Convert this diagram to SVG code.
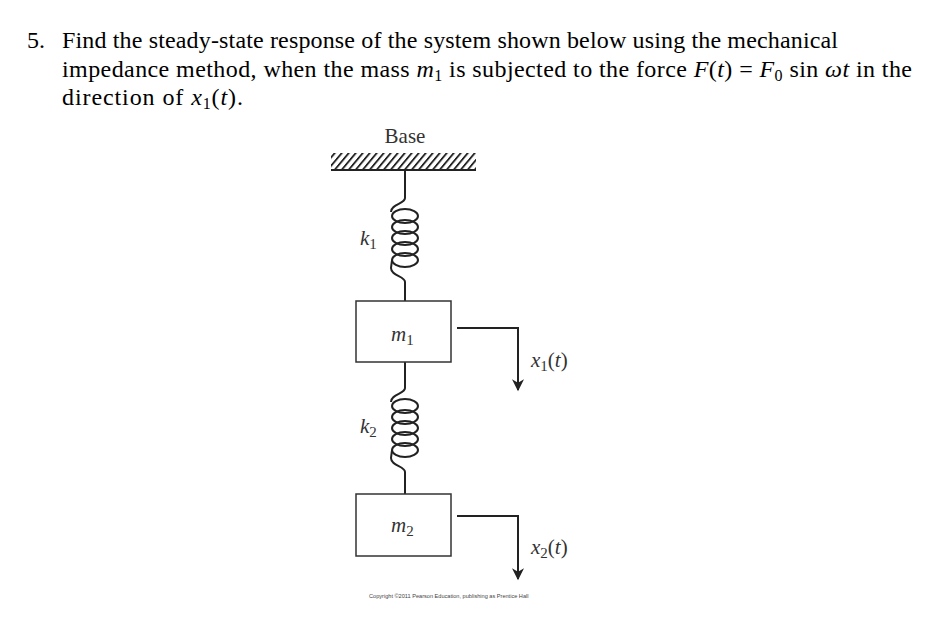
<svg xmlns="http://www.w3.org/2000/svg" width="952" height="625" viewBox="0 0 952 625">
<defs>
<style>
.t{font-family:"Liberation Serif",serif;font-size:24px;fill:#000}
.i{font-style:italic}
.l{font-family:"Liberation Serif",serif;fill:#333;font-size:21px}
.ln{stroke:#222;stroke-width:2;fill:none}
.box{fill:#fff;stroke:#333;stroke-width:1.5}
</style>
<marker id="ah" viewBox="0 0 10 10" refX="9" refY="5" markerWidth="16" markerHeight="12" orient="auto" markerUnits="userSpaceOnUse"><path d="M0,0 L10,5 L0,10 L3,5 z" fill="#222"/></marker>
<pattern id="hatch" width="7" height="18" patternUnits="userSpaceOnUse" patternTransform="skewX(-40)"><rect x="0" y="0" width="2.4" height="18" fill="#222"/></pattern>
<g id="coil"><path class="ln" stroke-width="1.8" d="M0,0 C0,6 -14,6 -14,14"/><ellipse cx="0" cy="18" rx="13" ry="7" class="ln" stroke-width="1.8"/><ellipse cx="0" cy="29" rx="13" ry="7" class="ln" stroke-width="1.8"/><ellipse cx="0" cy="40" rx="13" ry="7" class="ln" stroke-width="1.8"/><ellipse cx="0" cy="51" rx="13" ry="7" class="ln" stroke-width="1.8"/><ellipse cx="0" cy="62" rx="13" ry="7" class="ln" stroke-width="1.8"/><path class="ln" stroke-width="1.8" d="M-13,62 L-14,70 C-14,78 0,78 0,84"/></g>
</defs>
<rect width="952" height="625" fill="#fff"/>
<g id="question">
<text class="t" x="27" y="48">5.</text>
<text class="t" x="62" y="48" textLength="776" lengthAdjust="spacing">Find the steady-state response of the system shown below using the mechanical</text>
<text class="t" x="62" y="77" textLength="850" lengthAdjust="spacing">impedance method, when the mass <tspan class="i">m</tspan><tspan font-size="16" dy="4">1</tspan><tspan dy="-4"> is subjected to the force </tspan><tspan class="i">F</tspan>(<tspan class="i">t</tspan>) = <tspan class="i">F</tspan><tspan font-size="16" dy="4">0</tspan><tspan dy="-4"> sin </tspan><tspan class="i">ωt</tspan> in the</text>
<text class="t" x="62" y="105" textLength="181" lengthAdjust="spacing">direction of <tspan class="i">x</tspan><tspan font-size="16" dy="4">1</tspan><tspan dy="-4">(</tspan><tspan class="i">t</tspan>).</text>
</g>
<g id="base">
<text class="l" x="405" y="143" text-anchor="middle">Base</text>
<rect x="331" y="153" width="145" height="16" fill="url(#hatch)"/>
<line x1="331" y1="170" x2="476" y2="170" stroke="#222" stroke-width="2"/>
</g>
<g id="connectors">
<line class="ln" x1="405" y1="170" x2="405" y2="198"/>
<use href="#coil" x="405" y="198"/>
<line class="ln" x1="405" y1="282" x2="405" y2="301"/>
<line class="ln" x1="405" y1="362" x2="405" y2="388"/>
<use href="#coil" x="405" y="388"/>
<line class="ln" x1="405" y1="472" x2="405" y2="494"/>
<path class="ln" stroke-width="2.5" d="M457,328 H518 V390" marker-end="url(#ah)"/>
<path class="ln" stroke-width="2.5" d="M457,516 H518 V579" marker-end="url(#ah)"/>
</g>
<g id="m1"><rect class="box" x="356" y="301" width="95" height="61"/><text class="l i" x="391" y="341">m<tspan font-size="15" font-style="normal" dy="4">1</tspan></text></g>
<g id="m2"><rect class="box" x="356" y="494" width="95" height="62"/><text class="l i" x="391" y="532">m<tspan font-size="15" font-style="normal" dy="4">2</tspan></text></g>
<g id="labels">
<text class="l i" x="360" y="245">k<tspan font-size="15" font-style="normal" dy="4">1</tspan></text>
<text class="l i" x="360" y="433">k<tspan font-size="15" font-style="normal" dy="4">2</tspan></text>
<text class="l" x="531" y="367"><tspan class="i">x</tspan><tspan font-size="15" dy="4">1</tspan><tspan dy="-4">(</tspan><tspan class="i">t</tspan>)</text>
<text class="l" x="531" y="554"><tspan class="i">x</tspan><tspan font-size="15" dy="4">2</tspan><tspan dy="-4">(</tspan><tspan class="i">t</tspan>)</text>
<text x="369" y="598" font-family="Liberation Sans, sans-serif" font-size="5.6" fill="#444">Copyright ©2011 Pearson Education, publishing as Prentice Hall</text>
</g>
</svg>
